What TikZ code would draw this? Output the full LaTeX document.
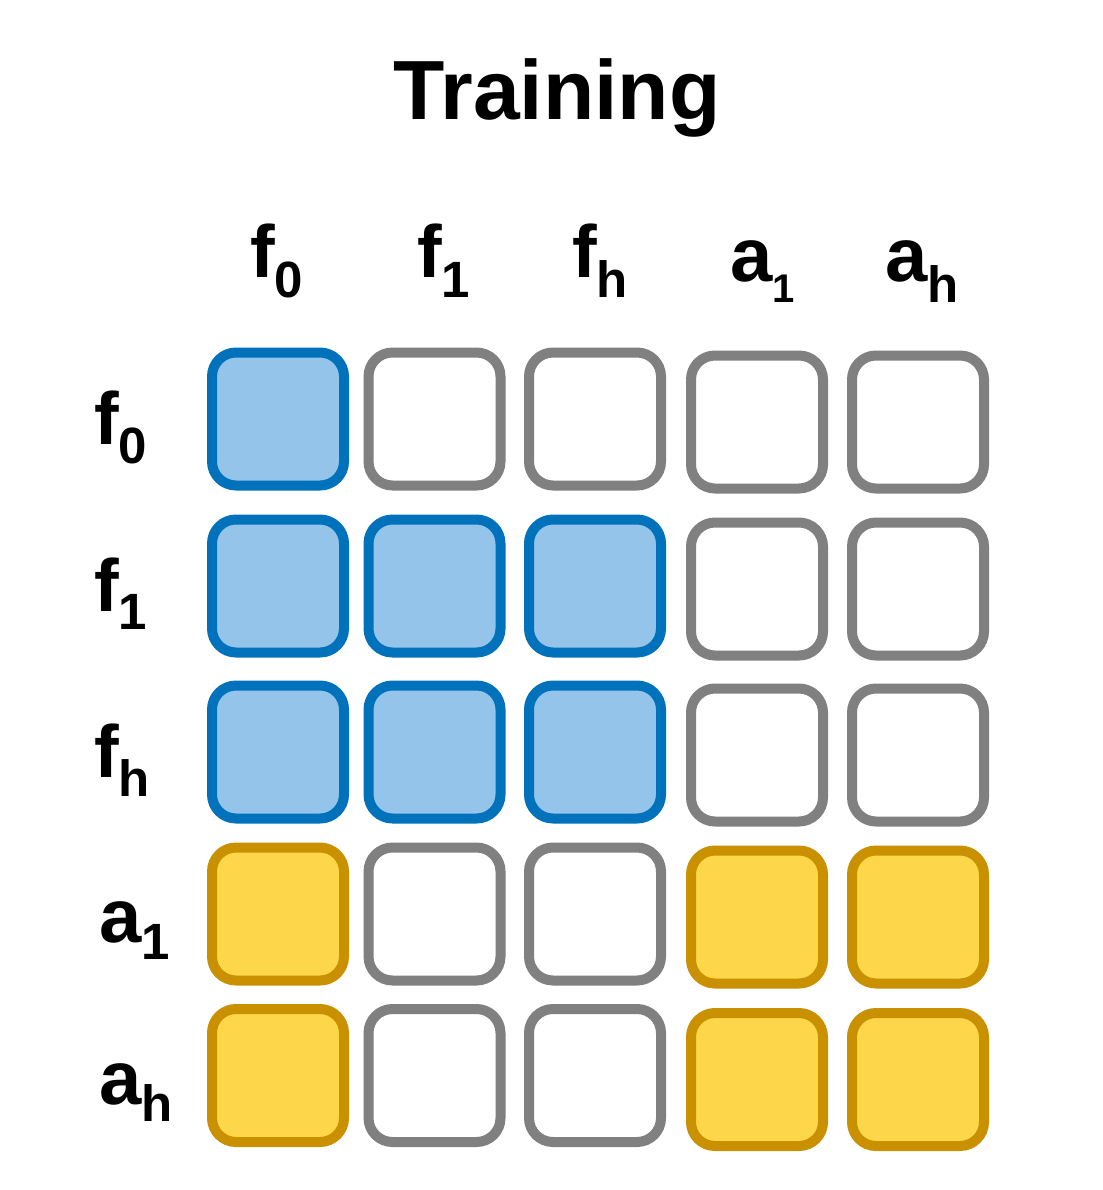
\documentclass[tikz,border=0pt]{standalone}
\usepackage{fontspec}
\setmainfont{Liberation Sans}
\definecolor{bfill}{HTML}{94C4EA}
\definecolor{bline}{HTML}{0072BB}
\definecolor{gline}{HTML}{808080}
\definecolor{yfill}{HTML}{FDD64A}
\definecolor{yline}{HTML}{C99000}
\tikzset{
  cell/.style={rectangle, rounded corners=24pt, line width=10pt, minimum width=132pt, minimum height=133pt, inner sep=0pt},
  bcell/.style={cell, draw=bline, fill=bfill},
  gcell/.style={cell, draw=gline, fill=white},
  ycell/.style={cell, draw=yline, fill=yfill},
  lbl/.style={inner sep=0pt, anchor=base west, font=\fontsize{74}{74}\selectfont\bfseries},
  albl/.style={inner sep=0pt, anchor=base west, font=\fontsize{76}{76}\selectfont\bfseries},
}
\newcommand{\mysub}[3]{\raisebox{-#2pt}{\fontsize{#1}{#1}\selectfont #3}}
\begin{document}
\begin{tikzpicture}[x=1pt,y=-1pt]
\useasboundingbox[fill=white] (0,0) rectangle (1102,1190);
\node[inner sep=0pt, anchor=base, font=\fontsize{84}{84}\selectfont\bfseries] (title) at (557,120) {Training};
% column labels
\node[lbl] (cf0) at (250,277) {f\mysub{51}{20}{0}};
\node[lbl] (cf1) at (417,277) {f\mysub{51}{20}{1}};
\node[lbl] (cfh) at (572,277) {f\mysub{51}{20}{h}};
\node[albl] (ca1) at (730,281) {a\mysub{40}{21}{1}};
\node[albl] (cah) at (885,281) {a\mysub{51}{21}{h}};
% row labels
\node[lbl] (rf0) at (94,444) {f\mysub{51}{19}{0}};
\node[lbl] (rf1) at (94,611) {f\mysub{51}{18}{1}};
\node[lbl] (rfh) at (94,777) {f\mysub{51}{19}{h}};
\node[albl] (ra1) at (99,942) {a\mysub{51}{17}{1}};
\node[albl] (rah) at (99,1104) {a\mysub{51}{17}{h}};
% row 1
\node[bcell] (b11) at (278,419) {};
\node[gcell] (b12) at (434.5,419) {};
\node[gcell] (b13) at (595,419) {};
\node[gcell] (b14) at (757,422) {};
\node[gcell] (b15) at (918,422) {};
% row 2
\node[bcell] (b21) at (278,586) {};
\node[bcell] (b22) at (434.5,586) {};
\node[bcell] (b23) at (595,586) {};
\node[gcell] (b24) at (757,589) {};
\node[gcell] (b25) at (918,589) {};
% row 3
\node[bcell] (b31) at (278,752) {};
\node[bcell] (b32) at (434.5,752) {};
\node[bcell] (b33) at (595,752) {};
\node[gcell] (b34) at (757,755) {};
\node[gcell] (b35) at (918,755) {};
% row 4
\node[ycell] (b41) at (278,914) {};
\node[gcell] (b42) at (434.5,914) {};
\node[gcell] (b43) at (595,914) {};
\node[ycell] (b44) at (757,917) {};
\node[ycell] (b45) at (918,917) {};
% row 5
\node[ycell] (b51) at (278,1075.5) {};
\node[gcell] (b52) at (434.5,1075.5) {};
\node[gcell] (b53) at (595,1075.5) {};
\node[ycell] (b54) at (757,1079.5) {};
\node[ycell] (b55) at (918,1079.5) {};
\end{tikzpicture}
\end{document}
